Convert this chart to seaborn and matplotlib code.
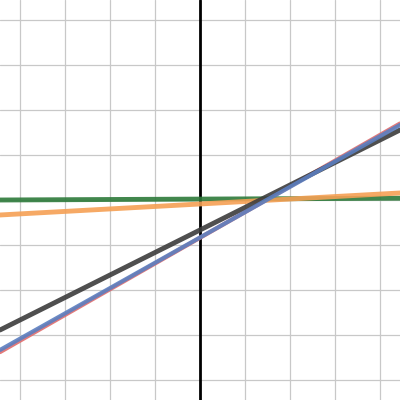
import numpy as np
import pandas as pd
import matplotlib
matplotlib.use("Agg")
import matplotlib.pyplot as plt
import seaborn as sns

# endpoints (grid units; vertical axis at x=0)
x_ends = [-4.444, 4.444]
green = [5.00, 5.04]
orange = [4.667, 5.156]
black = [2.111, 6.556]
red = [1.62, 6.70]
blue = [1.667, 6.667]

COLORS = {"red": "#e06c6c", "green": "#2d7a3a", "orange": "#f5a054",
          "black": "#3c3c3c", "blue": "#5b7fc0"}

sns.set_style("white")
fig, ax = plt.subplots(figsize=(4, 4), dpi=100)
fig.subplots_adjust(0, 0, 1, 1)

for gx in np.arange(-4, 5, 1):
    ax.axvline(gx, color="#c8c8c8", lw=0.9, zorder=0)
for gy in np.arange(1, 10, 1):
    ax.axhline(gy, color="#c8c8c8", lw=0.9, zorder=0)
ax.axvline(0, color="black", lw=2, zorder=1)

series = [("red", red, 3.0), ("green", green, 3.5), ("orange", orange, 3.5),
          ("black", black, 3.5), ("blue", blue, 3.0)]
for name, vals, lw in series:
    df = pd.DataFrame({"x": x_ends, "y": vals})
    sns.lineplot(data=df, x="x", y="y", ax=ax, color=COLORS[name], lw=lw,
                 alpha=0.9, zorder=3)

ax.set_xlim(-4.444, 4.444)
ax.set_ylim(5 - 200 / 45, 5 + 200 / 45)
ax.set_xlabel("")
ax.set_ylabel("")
ax.set_xticks([])
ax.set_yticks([])
for s in ax.spines.values():
    s.set_visible(False)
fig.savefig("out.png", dpi=100)
